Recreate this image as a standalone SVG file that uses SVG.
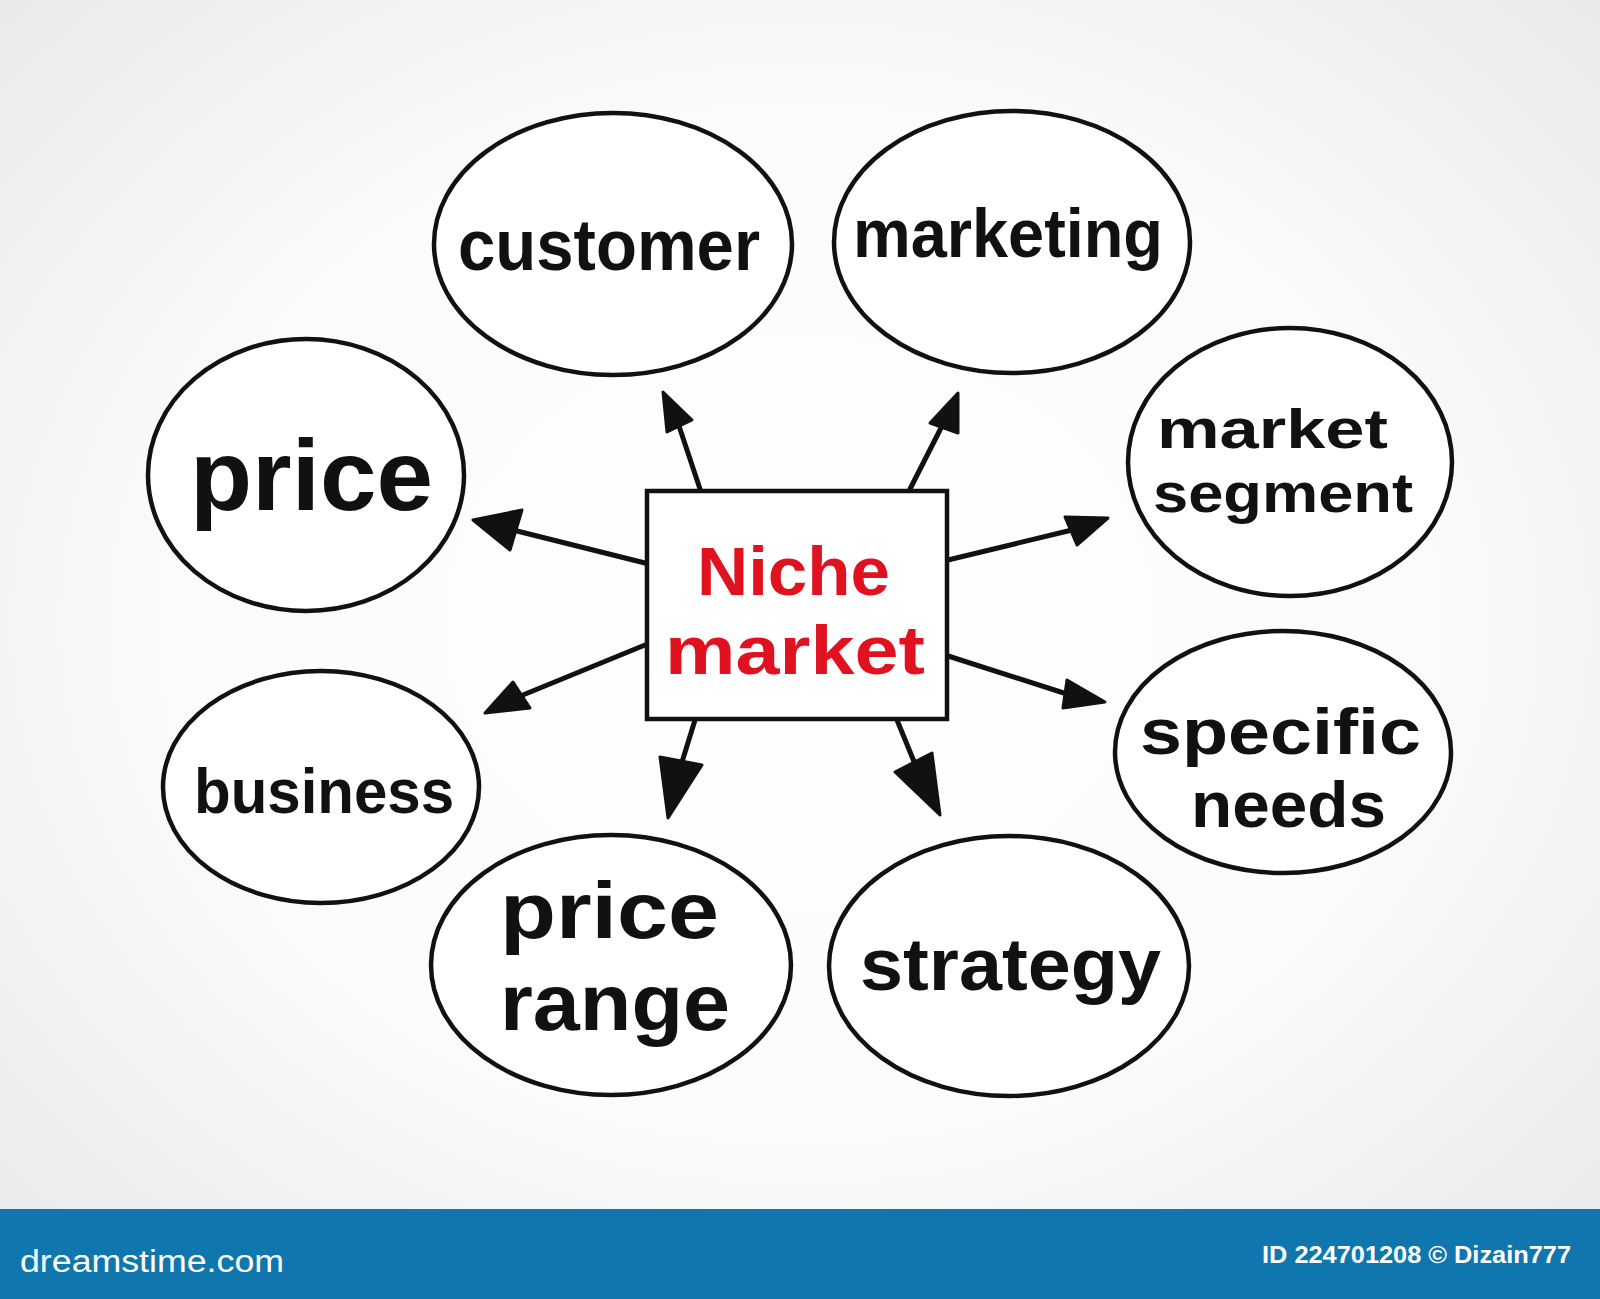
<svg xmlns="http://www.w3.org/2000/svg" width="1600" height="1299" viewBox="0 0 1600 1299">
<defs>
<radialGradient id="bg" cx="50%" cy="48%" r="70%">
<stop offset="0" stop-color="#ffffff"/>
<stop offset="0.55" stop-color="#fbfbfc"/>
<stop offset="1" stop-color="#e9e9ec"/>
</radialGradient>
<style>
.node{fill:#ffffff;stroke:#111111;stroke-width:4.5}
.lbl{font-family:"Liberation Sans","Arial",sans-serif;font-weight:700;fill:#111111}
.red{fill:#e0121f}
.conn{stroke:#111111;stroke-width:5;stroke-linecap:round;fill:none}
.head{fill:#111111;stroke:#111111;stroke-width:3;stroke-linejoin:round}
.foot{font-family:"Liberation Sans","DejaVu Sans",sans-serif;fill:#ffffff}
</style>
</defs>
<rect x="0" y="0" width="1600" height="1299" fill="url(#bg)"/>

<g id="connectors">
<line class="conn" x1="700" y1="489" x2="679" y2="426"/>
<polygon class="head" points="663,392 667,432 692,420"/>
<line class="conn" x1="910" y1="489" x2="942" y2="426"/>
<polygon class="head" points="958,393 930,423 958,433"/>
<line class="conn" x1="645" y1="563" x2="513" y2="530"/>
<polygon class="head" points="473,520 522,510 510,550"/>
<line class="conn" x1="645" y1="645" x2="518" y2="697"/>
<polygon class="head" points="485,713 513,682 530,708"/>
<line class="conn" x1="695" y1="720" x2="682" y2="762"/>
<polygon class="head" points="668,818 660,757 702,765"/>
<line class="conn" x1="897" y1="720" x2="915" y2="764"/>
<polygon class="head" points="940,815 895,772 932,753"/>
<line class="conn" x1="948" y1="560" x2="1072" y2="530"/>
<polygon class="head" points="1108,518 1065,517 1077,545"/>
<line class="conn" x1="945" y1="655" x2="1070" y2="695"/>
<polygon class="head" points="1105,702 1067,680 1063,708"/>
</g>

<g id="center">
<rect class="node" x="647" y="491" width="300" height="228"/>
<text class="lbl red" x="697" y="595" font-size="69" textLength="193" lengthAdjust="spacingAndGlyphs">Niche</text>
<text class="lbl red" x="665" y="674" font-size="69" textLength="260" lengthAdjust="spacingAndGlyphs">market</text>
</g>

<g id="customer">
<ellipse class="node" cx="613" cy="244" rx="179" ry="131"/>
<text class="lbl" x="458" y="270" font-size="72" textLength="302" lengthAdjust="spacingAndGlyphs">customer</text>
</g>

<g id="marketing">
<ellipse class="node" cx="1012" cy="242" rx="178" ry="131"/>
<text class="lbl" x="853" y="257" font-size="68" textLength="310" lengthAdjust="spacingAndGlyphs">marketing</text>
</g>

<g id="market-segment">
<ellipse class="node" cx="1290" cy="462" rx="162" ry="134"/>
<text class="lbl" x="1157" y="448" font-size="56" textLength="231" lengthAdjust="spacingAndGlyphs">market</text>
<text class="lbl" x="1153" y="512" font-size="56" textLength="260" lengthAdjust="spacingAndGlyphs">segment</text>
</g>

<g id="specific-needs">
<ellipse class="node" cx="1283" cy="752" rx="168" ry="121"/>
<text class="lbl" x="1140" y="754" font-size="64" textLength="281" lengthAdjust="spacingAndGlyphs">specific</text>
<text class="lbl" x="1191" y="827" font-size="64" textLength="195" lengthAdjust="spacingAndGlyphs">needs</text>
</g>

<g id="strategy">
<ellipse class="node" cx="1009" cy="966" rx="180" ry="130"/>
<text class="lbl" x="860" y="990" font-size="74" textLength="301" lengthAdjust="spacingAndGlyphs">strategy</text>
</g>

<g id="price-range">
<ellipse class="node" cx="611" cy="965" rx="180" ry="130"/>
<text class="lbl" x="500" y="938" font-size="80" textLength="219" lengthAdjust="spacingAndGlyphs">price</text>
<text class="lbl" x="500" y="1030" font-size="80" textLength="230" lengthAdjust="spacingAndGlyphs">range</text>
</g>

<g id="business">
<ellipse class="node" cx="321" cy="787" rx="158" ry="116"/>
<text class="lbl" x="194" y="813" font-size="63" textLength="260" lengthAdjust="spacingAndGlyphs">business</text>
</g>

<g id="price">
<ellipse class="node" cx="306" cy="475" rx="158" ry="136"/>
<text class="lbl" x="190" y="510" font-size="100" textLength="243" lengthAdjust="spacingAndGlyphs">price</text>
</g>

<rect x="0" y="1209" width="1600" height="90" fill="#0f77ae"/>
<text class="foot" x="20" y="1272" font-size="31" textLength="264" lengthAdjust="spacingAndGlyphs">dreamstime.com</text>
<text class="foot" x="1262" y="1263" font-size="24" font-weight="700" textLength="309" lengthAdjust="spacingAndGlyphs">ID 224701208 © Dizain777</text>
</svg>
